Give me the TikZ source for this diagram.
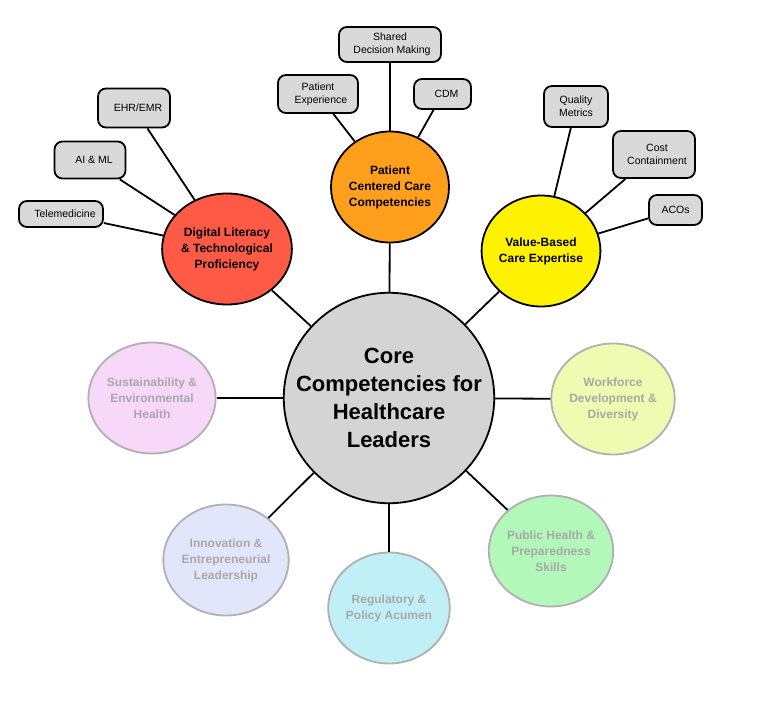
\documentclass[tikz,border=0pt]{standalone}
\usepackage{fontspec}
\setmainfont{Liberation Sans}
\usetikzlibrary{shapes.geometric}
\definecolor{redc}{HTML}{FF5A45}
\definecolor{orangec}{HTML}{FF9F1C}
\definecolor{yellowc}{HTML}{FFF200}
\definecolor{corec}{HTML}{D4D4D4}
\definecolor{boxc}{HTML}{D9D9D9}
\definecolor{pinkc}{HTML}{F8D8F8}
\definecolor{lavc}{HTML}{E2E6FB}
\definecolor{limec}{HTML}{EEFBB0}
\definecolor{greenc}{HTML}{B2F8B8}
\definecolor{cyanc}{HTML}{C0F0F5}
\definecolor{fadetext}{HTML}{A8A8A8}
\definecolor{fadeline}{HTML}{B0B0B0}
\tikzset{
  core/.style={circle, draw=black, line width=1.8pt, fill=corec, minimum size=210pt, inner sep=0pt, align=center, font=\bfseries\fontsize{22}{28}\selectfont},
  topic/.style={ellipse, draw=black, line width=1.8pt, minimum width=118pt, minimum height=111pt, inner sep=0pt, align=center, font=\bfseries\fontsize{12}{16}\selectfont},
  faded/.style={ellipse, draw=fadeline, line width=1.8pt, minimum width=118pt, minimum height=111pt, inner sep=0pt, align=center, text=fadetext, font=\bfseries\fontsize{12}{16}\selectfont},
  subbox/.style={rectangle, rounded corners=8pt, draw=black, line width=1.8pt, fill=boxc, inner sep=0pt, align=center, font=\fontsize{10.5}{13}\selectfont},
  link/.style={line width=1.8pt, black}
}
\newcommand{\sh}{\hspace*{8pt}}
\begin{document}
\begin{tikzpicture}[x=1pt,y=-1pt]
\useasboundingbox (0,0) rectangle (768,701);
% main
\node[core] (core) at (389,398) {Core\\Competencies for\\Healthcare\\Leaders};
% topics
\node[topic, fill=redc] (dig) at (227,249) {Digital Literacy\\\& Technological\\Proficiency};
\node[topic, fill=orangec] (pcc) at (390,187) {Patient\\Centered Care\\Competencies};
\node[topic, fill=yellowc] (val) at (541,251) {Value-Based\\Care Expertise};
\node[faded, fill=pinkc] (sus) at (152,398) {Sustainability \&\\Environmental\\Health};
\node[faded, fill=limec] (wfd) at (613,399) {Workforce\\Development \&\\Diversity};
\node[faded, fill=lavc] (inn) at (226,560) {Innovation \&\\Entrepreneurial\\Leadership};
\node[faded, fill=cyanc] (reg) at (389,608) {Regulatory \&\\Policy Acumen};
\node[faded, fill=greenc] (pub) at (551,551) {Public Health \&\\Preparedness\\Skills};
% sub boxes
\node[subbox, minimum width=72pt, minimum height=39pt] (ehr) at (134,108) {\sh EHR/EMR};
\node[subbox, minimum width=71pt, minimum height=37pt] (ai) at (90,160) {\sh AI \& ML};
\node[subbox, minimum width=84pt, minimum height=26pt] (tele) at (61,214) {\sh Telemedicine};
\node[subbox, minimum width=102pt, minimum height=35pt] (sdm) at (390,44.5) {Shared\\\hspace*{4pt}Decision Making};
\node[subbox, minimum width=80pt, minimum height=38pt] (pex) at (318,94) {Patient\\\hspace*{6pt}Experience};
\node[subbox, minimum width=57pt, minimum height=30pt] (cdm) at (442.5,94) {\sh CDM};
\node[subbox, minimum width=64pt, minimum height=41pt] (qm) at (576,106.5) {Quality\\Metrics};
\node[subbox, minimum width=82pt, minimum height=47pt] (cost) at (654,154.5) {\hspace*{6pt}Cost\\\hspace*{6pt}Containment};
\node[subbox, minimum width=53pt, minimum height=30pt] (aco) at (675.5,210) {ACOs};
% connectors
\foreach \t in {dig,pcc,val,sus,wfd,inn,reg,pub} \draw[link] (core) -- (\t);
\foreach \s in {ehr,ai,tele} \draw[link] (dig) -- (\s);
\foreach \s in {sdm,pex,cdm} \draw[link] (pcc) -- (\s);
\foreach \s in {qm,cost,aco} \draw[link] (val) -- (\s);
\end{tikzpicture}
\end{document}
